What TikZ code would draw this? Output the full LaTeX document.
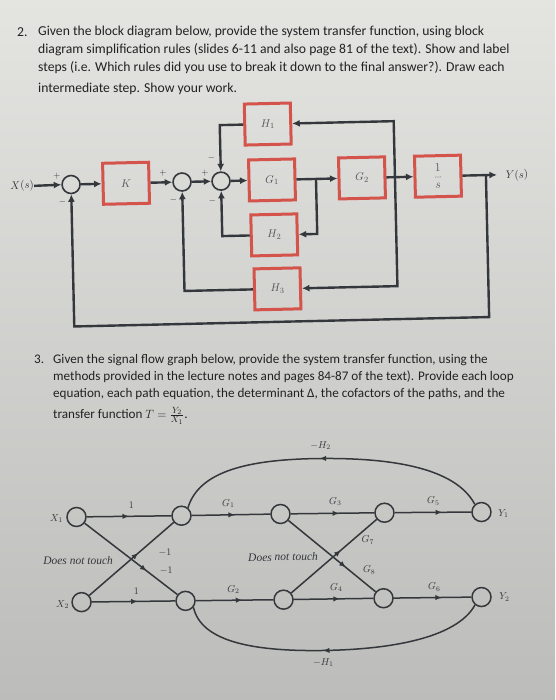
\documentclass[tikz,border=0pt]{standalone}
\usepackage[no-math]{fontspec}
\setmainfont{Carlito}
\newfontfamily\serifit{Liberation Serif}
\usetikzlibrary{arrows.meta,decorations.markings}
\definecolor{bgtop}{HTML}{E4E4E1}
\definecolor{bgbot}{HTML}{BCBCBA}
\definecolor{ink}{HTML}{34373B}
\definecolor{boxred}{HTML}{D4534B}
\definecolor{txt}{HTML}{222222}
\begin{document}
\begin{tikzpicture}[x=1pt,y=-1pt,
  paraA/.style={anchor=base west,inner sep=0pt,text=txt,font=\fontsize{13.65}{16}\selectfont},
  paraB/.style={anchor=base west,inner sep=0pt,text=txt,font=\fontsize{13.15}{16}\selectfont},
  blk/.style={draw=boxred,line width=3pt,minimum width=46pt,minimum height=41pt,inner sep=0pt,text=ink!85,font=\fontsize{11}{12}\selectfont},
  sumj/.style={circle,draw=ink,line width=1.6pt,minimum size=18pt,inner sep=0pt},
  sig/.style={draw=ink,line width=2.4pt},
  arr/.style={sig,-{Latex[length=7.5pt,width=7pt]}},
  sgn/.style={text=ink,inner sep=0pt,font=\fontsize{9.5}{10}\selectfont},
  lbl/.style={text=ink,inner sep=0pt,font=\fontsize{10}{11}\selectfont},
  iolbl/.style={text=ink,inner sep=0pt,font=\fontsize{11}{12}\selectfont},
  dnt/.style={text=ink,inner sep=0pt,font=\serifit\itshape\fontsize{11.5}{12}\selectfont},
  sfn/.style={circle,draw=ink,line width=1.5pt,minimum size=19pt,inner sep=0pt},
  sfe/.style={draw=ink,line width=1.5pt},
  flowarrow/.style={sfe,postaction={decorate},decoration={markings,mark=at position #1 with {\arrow{Latex[length=6.5pt,width=5.5pt]}}}}
]
\shade[top color=bgtop,bottom color=bgbot] (0,0) rectangle (555,700);
\useasboundingbox (0,0) rectangle (555,700);

% ---------- Problem 2 text ----------
\node[paraA] (n2) at (17,36.5) {2.};
\node[paraA] (t21) at (38,36) {Given the block diagram below, provide the system transfer function, using block};
\node[paraA] (t22) at (38,54) {diagram simplification rules (slides 6-11 and also page 81 of the text). Show and label};
\node[paraA] (t23) at (38,72) {steps (i.e. Which rules did you use to break it down to the final answer?). Draw each};
\node[paraA] (t24) at (38,92.5) {intermediate step. Show your work.};

% ---------- Block diagram ----------
\begin{scope}[rotate around={1.3:(270,180)},transform shape]
\node[sumj] (S1) at (71,180) {};
\node[blk] (K) at (126,180) {$K$};
\node[sumj] (S2) at (182,180) {};
\node[sumj] (S3) at (221,180) {};
\node[blk] (H1) at (269,124) {$H_1$};
\node[blk] (G1) at (272,180) {$G_1$};
\node[blk] (H2) at (273,235) {$H_2$};
\node[blk] (H3) at (275,289) {$H_3$};
\node[blk] (G2) at (362,180) {$G_2$};
\node[blk,font=\fontsize{12}{13}\selectfont] (Is) at (438,180) {$\displaystyle\frac{1}{s}$};
\node[iolbl] (X) at (22,180.5) {$X(s)$};
\node[iolbl] (Y) at (517,181) {$Y(s)$};
\coordinate (b1) at (316,180);
\coordinate (b2) at (395,180);
\coordinate (b3) at (486,180);
\coordinate (yend) at (497,180);
\coordinate (bl) at (486,322);

\draw[arr] (X.east) -- (S1.west);
\draw[arr] (S1) -- (K);
\draw[arr] (K) -- (S2);
\draw[arr] (S2) -- (S3);
\draw[arr] (S3) -- (G1);
\draw[arr] (G1) -- (G2);
\draw[arr] (b1) |- (H2.east);
\draw[arr] (G2) -- (Is);
\draw[arr] (b2) |- (H1.east);
\draw[arr] (b2) |- (H3.east);
\draw[arr] (Is) -- (yend);
\draw[arr] (b3) -- (bl) -| (S1.south);
\draw[arr] (H1.west) -| (S3.north);
\draw[arr] (H2.west) -| (S3.south);
\draw[arr] (H3.west) -| (S2.south);

\node[sgn] (p1) at (57,171) {$+$};
\node[sgn] (m1) at (62,197) {$-$};
\node[sgn] (p2) at (163,171) {$+$};
\node[sgn] (m2) at (173,198) {$-$};
\node[sgn] (p3) at (205,172) {$+$};
\node[sgn] (m3) at (212,157) {$-$};
\node[sgn] (m4) at (212,200) {$-$};
\end{scope}

% ---------- Problem 3 text ----------
\node[paraB] (n3) at (34,363.5) {3.};
\node[paraB] (t31) at (53,363) {Given the signal flow graph below, provide the system transfer function, using the};
\node[paraB] (t32) at (53,380) {methods provided in the lecture notes and pages 84-87 of the text). Provide each loop};
\node[paraB] (t33) at (53,397) {equation, each path equation, the determinant Δ, the cofactors of the paths, and the};
\node[paraB] (t34) at (53,418.5) {transfer function $T=\frac{Y_2}{X_1}$.};

% ---------- Signal flow graph ----------
\begin{scope}[rotate around={0.7:(280,557)},transform shape]
\node[sfn] (X1) at (77,514.5) {};
\node[sfn] (A) at (182,514.5) {};
\node[sfn] (C) at (281,514) {};
\node[sfn] (E) at (385,514) {};
\node[sfn] (Y1) at (482,514.5) {};
\node[sfn] (X2) at (81,599.7) {};
\node[sfn] (B) at (185,599.7) {};
\node[sfn] (D) at (283,599.7) {};
\node[sfn] (F) at (383,599.5) {};
\node[sfn] (Y2) at (481,599.5) {};

\draw[flowarrow=0.5] (X1) -- (A);
\draw[flowarrow=0.55] (X2) -- (B);
\draw[flowarrow=0.67] (X1) -- (B);
\draw[flowarrow=0.58] (X2) -- (A);
\draw[flowarrow=0.55] (A) -- (C);
\draw[flowarrow=0.6] (B) -- (D);
\draw[flowarrow=0.58] (C) -- (E);
\draw[flowarrow=0.58] (D) -- (F);
\draw[flowarrow=0.66] (C) -- (F);
\draw[flowarrow=0.58] (D) -- (E);
\draw[flowarrow=0.62] (E) -- (Y1);
\draw[flowarrow=0.62] (F) -- (Y2);
\draw[flowarrow=0.53] (Y1.130) .. controls (456,469) and (390,459) .. (320,459)
   .. controls (250,459) and (200,470) .. (A.50);
\draw[flowarrow=0.53] (Y2.230) .. controls (456,640) and (390,651) .. (320,651)
   .. controls (250,651) and (200,640) .. (B.-40);

\node[lbl] (lx1) at (57,516) {$X_1$};
\node[lbl] (lx2) at (62,602) {$X_2$};
\node[lbl] (ly1) at (504,516) {$Y_1$};
\node[lbl] (ly2) at (504,600) {$Y_2$};
\node[lbl] (e1) at (132,503) {$1$};
\node[lbl] (e2) at (136,589) {$1$};
\node[lbl] (e3) at (165,551) {$-1$};
\node[lbl] (e4) at (166,569) {$-1$};
\node[lbl] (g1) at (229,503) {$G_1$};
\node[lbl] (g2) at (233,589) {$G_2$};
\node[lbl] (g3) at (336,502.5) {$G_3$};
\node[lbl] (g4) at (336,588) {$G_4$};
\node[lbl] (g5) at (434,503) {$G_5$};
\node[lbl] (g6) at (434,589) {$G_6$};
\node[lbl] (g7) at (368,541) {$G_7$};
\node[lbl] (g8) at (369,571) {$G_8$};
\node[lbl] (h2) at (322,446) {$-H_2$};
\node[lbl] (h1) at (322,663) {$-H_1$};
\node[dnt] (dn1) at (78,558) {Does not touch};
\node[dnt] (dn2) at (283,557) {Does not touch};
\end{scope}
\end{tikzpicture}
\end{document}
